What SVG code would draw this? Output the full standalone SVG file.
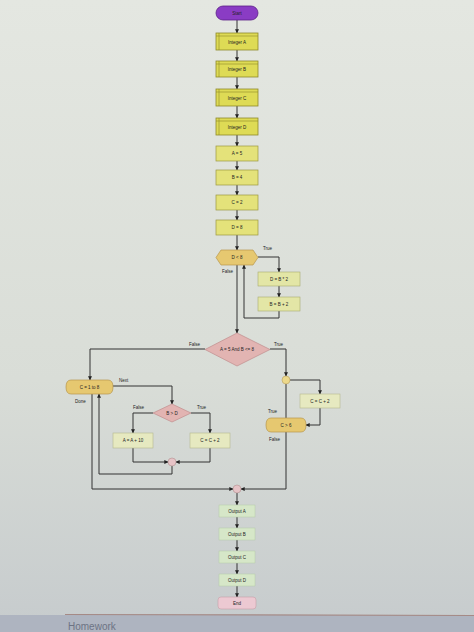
<svg xmlns="http://www.w3.org/2000/svg" width="474" height="632" viewBox="0 0 474 632">
<defs>
<linearGradient id="bg" x1="0" y1="0" x2="0" y2="1">
<stop offset="0" stop-color="#e4e7e1"/>
<stop offset="0.6" stop-color="#d9ddd7"/>
<stop offset="1" stop-color="#c6cbcd"/>
</linearGradient>
<marker id="ah" viewBox="0 0 6 6" refX="5.5" refY="3" markerWidth="4" markerHeight="4" orient="auto">
<path d="M0,0 L6,3 L0,6 z" fill="#222"/>
</marker>
<style>
text{font-family:"Liberation Sans",Arial,sans-serif;font-size:4.5px;fill:#222;text-anchor:middle;dominant-baseline:central}
.lbl{font-size:4.5px;text-anchor:start}
.decl{fill:#dedb55;stroke:#8f8a2a;stroke-width:0.8}
.inner{stroke:#8f8a2a;stroke-width:0.6;fill:none}
.asg{fill:#e4e27a;stroke:#9c9740;stroke-width:0.7}
.asg2{fill:#e3e6a6;stroke:#a9ab70;stroke-width:0.6}
.asg3{fill:#e6e9c0;stroke:#b5b88e;stroke-width:0.6}
.loop{fill:#e6c870;stroke:#b8974a;stroke-width:0.7}
.dia{fill:#e2b4b2;stroke:#c08c8c;stroke-width:0.7}
.out{fill:#d6e7c8;stroke:#b5c9a8;stroke-width:0.5}
.join{fill:#e6c3c6;stroke:#b09090;stroke-width:0.6}
.jy{fill:#ecd88a;stroke:#b8a060;stroke-width:0.6}
#connectors path{fill:none;stroke:#333;stroke-width:1}
</style>
</defs>
<rect x="0" y="0" width="474" height="632" fill="url(#bg)"/>
<rect x="0" y="615" width="474" height="17" fill="#aeb4c0"/>
<line x1="65" y1="614.5" x2="474" y2="615.5" stroke="#a58a86" stroke-width="1.2"/>
<text x="68" y="626" style="font-size:10px;text-anchor:start;fill:#6d7384">Homework</text>

<g id="connectors">
<path d="M237 20 V33" marker-end="url(#ah)"/>
<path d="M237 50 V61" marker-end="url(#ah)"/>
<path d="M237 77 V89" marker-end="url(#ah)"/>
<path d="M237 106 V118" marker-end="url(#ah)"/>
<path d="M237 135 V146" marker-end="url(#ah)"/>
<path d="M237 161 V170" marker-end="url(#ah)"/>
<path d="M237 185 V195" marker-end="url(#ah)"/>
<path d="M237 210 V220" marker-end="url(#ah)"/>
<path d="M237 235 V250" marker-end="url(#ah)"/>
<path d="M258 257 H279 V272" marker-end="url(#ah)"/>
<path d="M279 286 V297" marker-end="url(#ah)"/>
<path d="M279 311 V318 H244 V265" marker-end="url(#ah)"/>
<path d="M237 265 V333" marker-end="url(#ah)"/>
<path d="M205 349 H90 V380" marker-end="url(#ah)"/>
<path d="M270 349 H286 V376" marker-end="url(#ah)"/>
<path d="M290 380 H320 V394" marker-end="url(#ah)"/>
<path d="M320 408 V425 H306" marker-end="url(#ah)"/>
<path d="M286 418 V384"/>
<path d="M286 432 V489 H241" marker-end="url(#ah)"/>
<path d="M113 386 H172 V404" marker-end="url(#ah)"/>
<path d="M153 413 H133 V433" marker-end="url(#ah)"/>
<path d="M191 413 H210 V433" marker-end="url(#ah)"/>
<path d="M133 448 V462 H168" marker-end="url(#ah)"/>
<path d="M210 448 V462 H176" marker-end="url(#ah)"/>
<path d="M172 466 V474 H99 V394" marker-end="url(#ah)"/>
<path d="M92 394 V489 H233" marker-end="url(#ah)"/>
<path d="M237 493 V505" marker-end="url(#ah)"/>
<path d="M237 517 V528" marker-end="url(#ah)"/>
<path d="M237 540 V551" marker-end="url(#ah)"/>
<path d="M237 563 V574" marker-end="url(#ah)"/>
<path d="M237 586 V597" marker-end="url(#ah)"/>
</g>

<g id="labels">
<text class="lbl" x="263" y="248">True</text>
<text class="lbl" x="222" y="271">False</text>
<text class="lbl" x="189" y="344">False</text>
<text class="lbl" x="274" y="344">True</text>
<text class="lbl" x="119" y="380">Next</text>
<text class="lbl" x="75" y="401">Done</text>
<text class="lbl" x="133" y="407">False</text>
<text class="lbl" x="197" y="407">True</text>
<text class="lbl" x="268" y="411">True</text>
<text class="lbl" x="269" y="439">False</text>
</g>

<g id="start"><rect x="216" y="6" width="42" height="14" rx="7" fill="#8a3cc4" stroke="#5c2088" stroke-width="0.8"/><text x="237" y="13">Start</text></g>

<g id="intA"><rect class="decl" x="216" y="33" width="42" height="17"/><path class="inner" d="M219 33 V50 M216 36 H258"/><text x="237" y="42">Integer A</text></g>
<g id="intB"><rect class="decl" x="216" y="61" width="42" height="16"/><path class="inner" d="M219 61 V77 M216 64 H258"/><text x="237" y="69.5">Integer B</text></g>
<g id="intC"><rect class="decl" x="216" y="89" width="42" height="17"/><path class="inner" d="M219 89 V106 M216 92 H258"/><text x="237" y="98">Integer C</text></g>
<g id="intD"><rect class="decl" x="216" y="118" width="42" height="17"/><path class="inner" d="M219 118 V135 M216 121 H258"/><text x="237" y="127">Integer D</text></g>

<g id="a5"><rect class="asg" x="216" y="146" width="42" height="15"/><text x="237" y="153.5">A = 5</text></g>
<g id="b4"><rect class="asg" x="216" y="170" width="42" height="15"/><text x="237" y="177.5">B = 4</text></g>
<g id="c2"><rect class="asg" x="216" y="195" width="42" height="15"/><text x="237" y="202.5">C = 2</text></g>
<g id="d8"><rect class="asg" x="216" y="220" width="42" height="15"/><text x="237" y="227.5">D = 8</text></g>

<g id="while"><path class="loop" d="M221 250 H253 L258 257.5 L253 265 H221 L216 257.5 Z"/><text x="237" y="257.5">D &lt; 8</text></g>
<g id="db2"><rect class="asg2" x="258" y="272" width="42" height="14"/><text x="279" y="279">D = B * 2</text></g>
<g id="bb2"><rect class="asg2" x="258" y="297" width="42" height="14"/><text x="279" y="304">B = B + 2</text></g>

<g id="ifmain"><path class="dia" d="M237 333 L270 349.5 L237 366 L205 349.5 Z"/><text x="237" y="349.5">A = 5 And B &lt;= 8</text></g>

<g id="for"><path class="loop" d="M71 380 H108 Q113 380 113 387 Q113 394 108 394 H71 Q66 394 66 387 Q66 380 71 380 Z"/><text x="89.5" y="387">C = 1 to 8</text></g>
<g id="ifbd"><path class="dia" d="M172 404 L191 413 L172 422 L153 413 Z"/><text x="172" y="413">B &gt; D</text></g>
<g id="aa10"><rect class="asg3" x="113" y="433" width="40" height="15"/><text x="133" y="440.5">A = A + 10</text></g>
<g id="cc2a"><rect class="asg3" x="190" y="433" width="40" height="15"/><text x="210" y="440.5">C = C + 2</text></g>
<g id="join1"><circle class="join" cx="172" cy="462" r="4"/></g>

<g id="dojoin"><circle class="jy" cx="286" cy="380" r="4"/></g>
<g id="cc2b"><rect class="asg3" x="300" y="394" width="40" height="14"/><text x="320" y="401">C = C + 2</text></g>
<g id="dowhile"><path class="loop" d="M271 418 H301 Q306 418 306 425 Q306 432 301 432 H271 Q266 432 266 425 Q266 418 271 418 Z"/><text x="286" y="425">C &gt; 6</text></g>

<g id="join2"><circle class="join" cx="237" cy="489" r="4"/></g>

<g id="outA"><rect class="out" x="219" y="505" width="36" height="12"/><text x="237" y="511">Output A</text></g>
<g id="outB"><rect class="out" x="219" y="528" width="36" height="12"/><text x="237" y="534">Output B</text></g>
<g id="outC"><rect class="out" x="219" y="551" width="36" height="12"/><text x="237" y="557">Output C</text></g>
<g id="outD"><rect class="out" x="219" y="574" width="36" height="12"/><text x="237" y="580">Output D</text></g>
<g id="end"><rect x="218" y="597" width="38" height="12" rx="3" fill="#ecc9d2" stroke="#c8a0a8" stroke-width="0.6"/><text x="237" y="603">End</text></g>
</svg>
